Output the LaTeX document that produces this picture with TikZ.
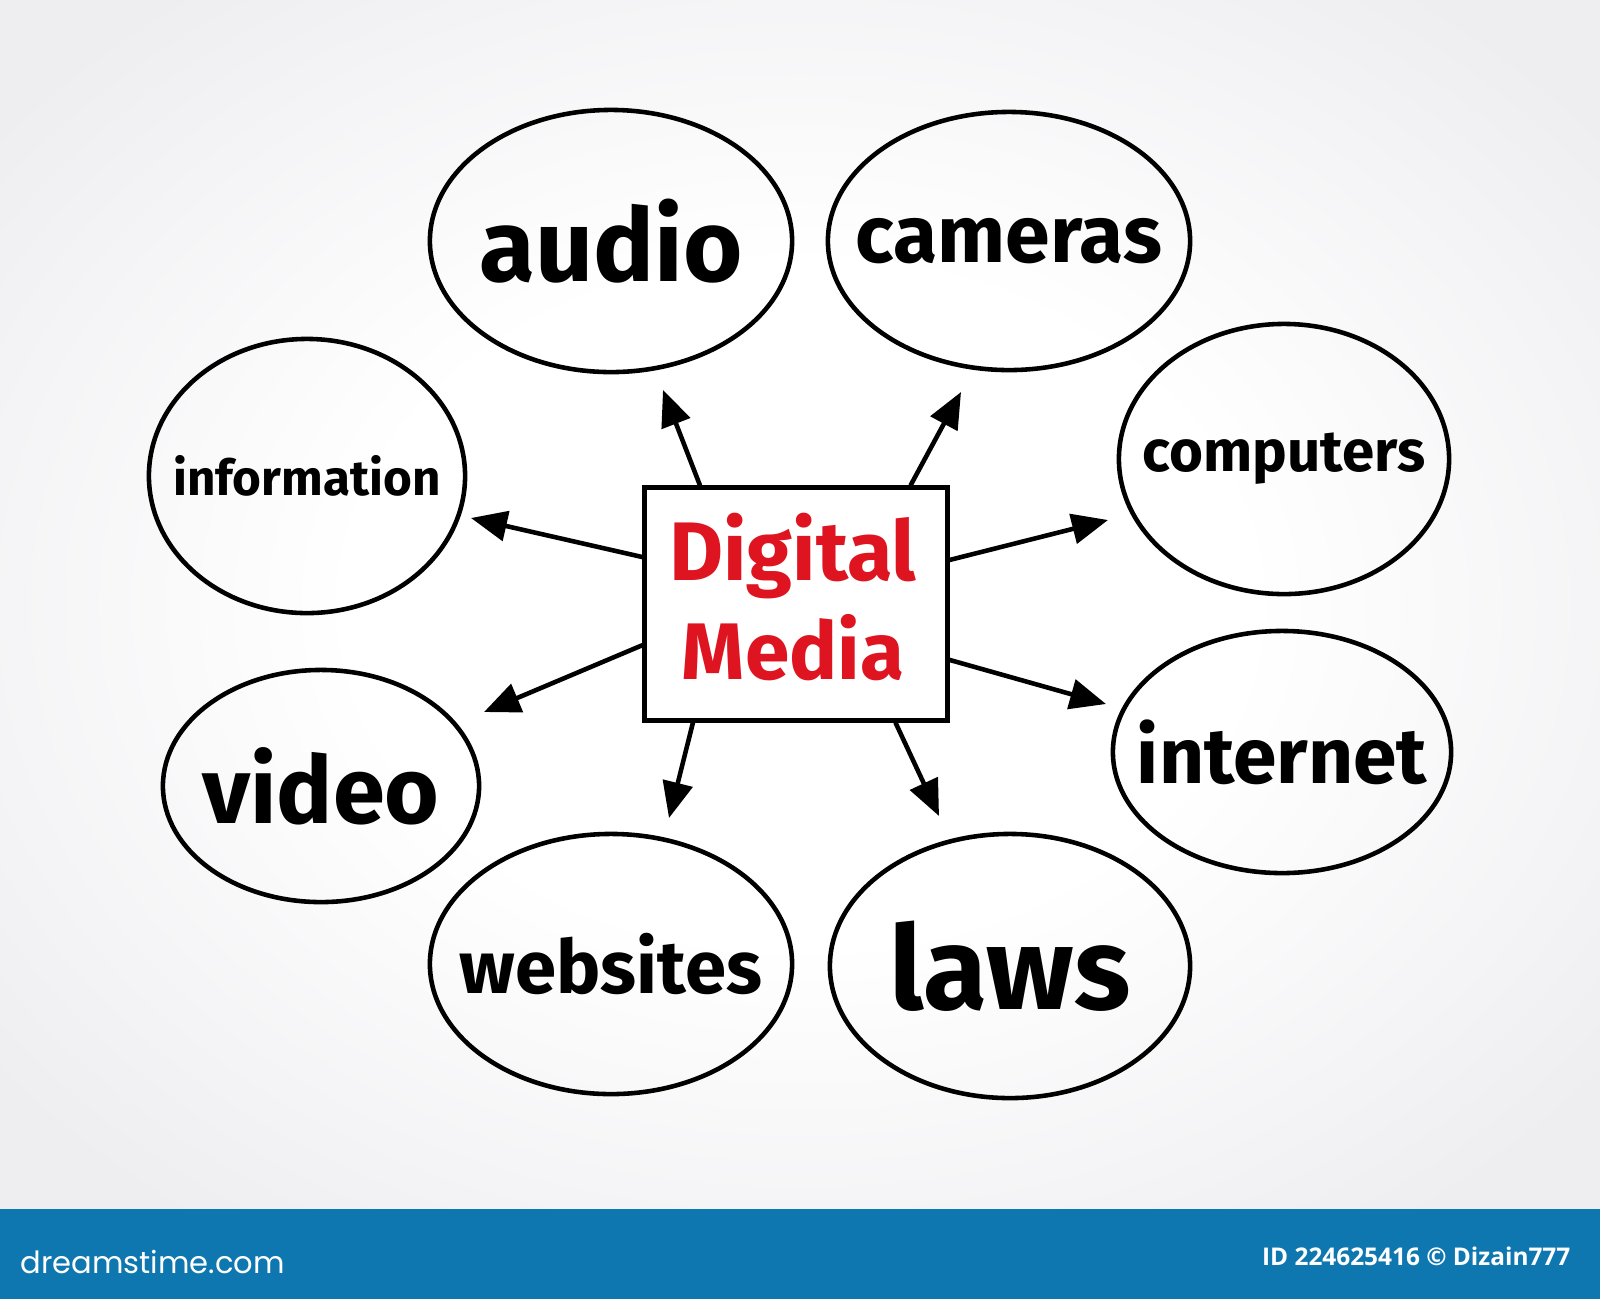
\documentclass[tikz,border=0pt]{standalone}
\usepackage{fontspec}
\setmainfont{Fira Sans}
\newfontfamily\wmfont{Open Sans}
\newfontfamily\brandfont{Poppins}
\usetikzlibrary{arrows.meta,shapes.geometric}
\definecolor{barblue}{RGB}{14,119,176}
\definecolor{dmred}{RGB}{222,20,32}
\definecolor{bgedge}{RGB}{238,238,241}
\newcommand{\fitw}[2]{\resizebox{#1}{!}{#2}}
\pgfdeclareradialshading{bgshade}{\pgfpoint{0bp}{0bp}}{color(0bp)=(white); color(14bp)=(white); color(32bp)=(bgedge); color(50bp)=(bgedge)}
\begin{document}
\begin{tikzpicture}[x=0.01cm,y=-0.01cm,
  bubble/.style={draw=black, line width=1.3pt, ellipse, inner sep=0pt},
  link/.style={line width=1.3pt, -{Triangle[length=0.36cm,width=0.30cm]}},
  word/.style={inner sep=0pt, text=black}
]
\useasboundingbox (0,0) rectangle (1600,1299);
\shade[shading=bgshade] (0,0) rectangle (1600,1209);
\fill[barblue] (0,1209) rectangle (1600,1299);

% bubbles
\node[bubble, minimum width=3.62cm, minimum height=2.62cm,
  label={[word]center:\fitw{2.63cm}{\bfseries audio}}] (audio) at (611,241) {};
\node[bubble, minimum width=3.62cm, minimum height=2.58cm,
  label={[word]center:\fitw{3.06cm}{\bfseries cameras}}] (cameras) at (1009,241) {};
\node[bubble, minimum width=3.16cm, minimum height=2.74cm,
  label={[word]center:\fitw{2.67cm}{\bfseries information}}] (information) at (307,476) {};
\node[bubble, minimum width=3.30cm, minimum height=2.70cm,
  label={[word]center:\fitw{2.82cm}{\bfseries computers}}] (computers) at (1284,459) {};
\node[bubble, minimum width=3.16cm, minimum height=2.32cm,
  label={[word]center:\fitw{2.37cm}{\bfseries video}}] (video) at (321,786) {};
\node[bubble, minimum width=3.38cm, minimum height=2.42cm,
  label={[word]center:\fitw{2.90cm}{\bfseries internet}}] (internet) at (1282,752) {};
\node[bubble, minimum width=3.62cm, minimum height=2.60cm,
  label={[word]center:\fitw{3.02cm}{\bfseries websites}}] (websites) at (611,964) {};
\node[bubble, minimum width=3.60cm, minimum height=2.64cm,
  label={[word]center:\fitw{2.41cm}{\bfseries laws}}] (laws) at (1010,966) {};

% centre box
\node[draw=black, line width=1.4pt, fill=white, minimum width=3.02cm, minimum height=2.32cm, inner sep=0pt] (dm) at (796,604) {};
\node[word, text=dmred] (dmtop) at (793,556) {\fitw{2.47cm}{\bfseries Digital}};
\node[word, text=dmred] (dmbot) at (793,648) {\fitw{2.22cm}{\bfseries Media}};

% arrow tips
\coordinate (tA) at (663,390);
\coordinate (tC) at (961,392);
\coordinate (tI) at (471,518);
\coordinate (tP) at (1108,520);
\coordinate (tV) at (484,712);
\coordinate (tN) at (1106,704);
\coordinate (tW) at (669,818);
\coordinate (tL) at (939,816);

\draw[link] (dm.129.6) -- (tA);
\draw[link] (dm.46) -- (tC);
\draw[link] (dm.163.4) -- (tI);
\draw[link] (dm.16.6) -- (tP);
\draw[link] (dm.195.2) -- (tV);
\draw[link] (dm.340.7) -- (tN);
\draw[link] (dm.229.8) -- (tW);
\draw[link] (dm.310.8) -- (tL);

% bottom bar
\node[word, anchor=west, text=white] (brand) at (20,1262) {\fitw{2.64cm}{\brandfont dreamstime.com}};
\node[word, anchor=east, text=white] (credit) at (1571,1256) {\fitw{3.08cm}{\wmfont\bfseries ID 224625416 © Dizain777}};
\end{tikzpicture}
\end{document}
